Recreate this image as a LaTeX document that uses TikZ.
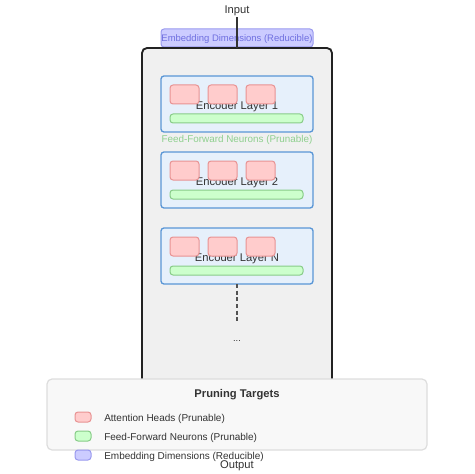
\documentclass[tikz,border=0pt]{standalone}
\usepackage{fontspec}
\setmainfont{Liberation Sans}
\usetikzlibrary{positioning}

\definecolor{txtgray}{HTML}{333333}
\definecolor{stackfill}{HTML}{F0F0F0}
\definecolor{stackline}{HTML}{222222}
\definecolor{embfill}{HTML}{CCCCFF}
\definecolor{embline}{HTML}{9999EE}
\definecolor{embtext}{HTML}{7070E0}
\definecolor{layerfill}{HTML}{E6F0FB}
\definecolor{layerline}{HTML}{5A96D6}
\definecolor{headfill}{HTML}{FFCCCC}
\definecolor{headline}{HTML}{E89393}
\definecolor{ffnfill}{HTML}{CCFFCC}
\definecolor{ffnline}{HTML}{88CC88}
\definecolor{ffntext}{HTML}{8FD08F}
\definecolor{legfill}{HTML}{F8F8F8}
\definecolor{legline}{HTML}{DDDDDD}

\tikzset{
  box/.style={rounded corners=2.25pt, inner sep=0pt, outer sep=0pt, anchor=north west},
  stackbox/.style={box, draw=stackline, fill=stackfill, line width=1.4pt, rounded corners=3.75pt,
    minimum width=142.5pt, minimum height=279pt},
  embbox/.style={box, draw=embline, fill=embfill, line width=0.75pt,
    minimum width=114pt, minimum height=13.5pt},
  layerbox/.style={box, draw=layerline, fill=layerfill, line width=1pt,
    minimum width=114pt, minimum height=42pt},
  headbox/.style={box, draw=headline, fill=headfill, line width=0.75pt,
    minimum width=21.75pt, minimum height=14.25pt},
  ffnbox/.style={box, draw=ffnline, fill=ffnfill, line width=0.75pt,
    minimum width=99.75pt, minimum height=6.75pt},
  legbox/.style={box, draw=legline, fill=legfill, line width=0.9pt, rounded corners=3.75pt,
    minimum width=285pt, minimum height=53.25pt},
  keybox/.style={box, line width=0.75pt, minimum width=12pt, minimum height=7.5pt},
  label/.style={inner sep=0.75pt, text=txtgray},
  keytext/.style={label, anchor=west, font=\fontsize{7.5pt}{9pt}\selectfont}
}

\begin{document}
\begin{tikzpicture}[x=0.75pt,y=0.75pt,yscale=-1,xscale=1]
\useasboundingbox (0,0) rectangle (474,474);

% Embedding strip and stack
\node [embbox] (emb) at (161,29) {};
\node [stackbox] (stack) at (142,48) {};
\node [label, inner sep=0pt, text=embtext, font=\fontsize{7.1pt}{8pt}\selectfont] (embtext) at (237,39.5) {Embedding Dimensions (Reducible)};

% Input
\node [label, font=\fontsize{8.4pt}{10pt}\selectfont] (input) at (237,11) {Input};
\draw [line width=1.2pt, txtgray] (input.south) -- (stack.north);

% Encoder layers
\foreach \y/\n [count=\i] in {76/1,152/2,228/N} {
  \node [layerbox] (layer\i) at (161,\y) {};
  \node [label, font=\fontsize{8.4pt}{10pt}\selectfont] (ltext\i) at (237,\y+31) {Encoder Layer \n};
  \foreach \x [count=\j] in {170,208,246}
    \node [headbox] (head\i\j) at (\x,\y+9) {};
  \node [ffnbox] (ffn\i) at (170,\y+38) {};
}

% Text Node
\node [label, text=ffntext, font=\fontsize{7.4pt}{9pt}\selectfont] (ffntext) at (237,140) {Feed-Forward Neurons (Prunable)};

% more layers
\coordinate (dotsend) at (237,322);
\draw [line width=1.5pt, txtgray!85, dash pattern=on 3pt off 2pt] (layer3.south) -- (dotsend);
\node [label, font=\fontsize{7pt}{8pt}\selectfont] (dots) at (237,340.5) {...};

% Legend
\node [legbox] (legend) at (47,379) {};
\node [label, font=\bfseries\fontsize{8.4pt}{10pt}\selectfont] (legtitle) at (237,395) {Pruning Targets};
\node [keybox, draw=headline, fill=headfill] (keyhead) at (75,412) {};
\node [keybox, draw=ffnline, fill=ffnfill] (keyffn) at (75,431) {};
\node [keybox, draw=embline, fill=embfill] (keyemb) at (75,450) {};
\node [keytext] (texthead) at (103,419) {Attention Heads (Prunable)};
\node [keytext] (textffn) at (103,438) {Feed-Forward Neurons (Prunable)};
\node [keytext] (textemb) at (103,457) {Embedding Dimensions (Reducible)};

% Output
\node [label, font=\fontsize{8.4pt}{10pt}\selectfont] (output) at (237,466) {Output};

\end{tikzpicture}
\end{document}
